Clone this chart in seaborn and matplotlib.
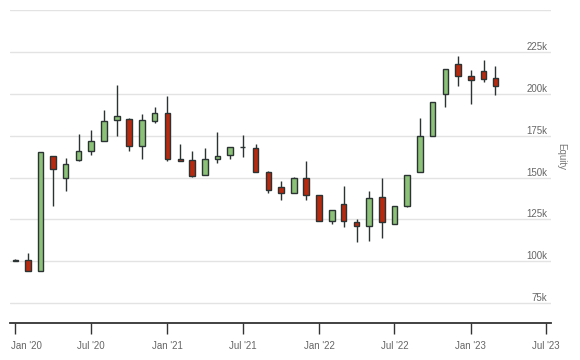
import matplotlib
matplotlib.use("Agg")
import matplotlib.pyplot as plt
import matplotlib.dates as mdates
import matplotlib.transforms as mtrans
import seaborn as sns
import pandas as pd
import numpy as np

# monthly equity candles (values in dollars)
months = pd.date_range("2020-01-01", "2023-03-01", freq="MS")
open_ = [100000, 100600, 94000, 163000, 149800, 160600, 166000, 172000, 184600, 185200,
         169000, 184000, 188800, 161200, 160200, 151600, 161200, 163600, 168400, 167800,
         153400, 144400, 140800, 149800, 139600, 124000, 134200, 123400, 121000, 138400,
         122200, 133000, 153400, 175000, 199800, 217800, 210600, 213600, 209400]
high = [101200, 105000, 165400, 163000, 161800, 175800, 178200, 190200, 205200, 185800,
        187800, 192000, 198800, 169800, 165600, 167400, 177000, 168400, 175200, 170200,
        154200, 148200, 150600, 159600, 139600, 130600, 145200, 125200, 142200, 150000,
        133000, 151600, 185400, 195400, 214800, 222800, 214200, 220200, 216600]
low = [100000, 94000, 94000, 132800, 141800, 159800, 163400, 172000, 174800, 165800,
       161000, 182600, 159800, 160000, 150600, 151600, 158600, 160800, 162200, 153400,
       140600, 136400, 140800, 136400, 124000, 122000, 120200, 111200, 111800, 113600,
       122200, 132200, 153400, 175000, 192200, 205000, 194200, 207000, 199600]
close = [100400, 94000, 165400, 155200, 158200, 166000, 172000, 184000, 187000, 169000,
         184600, 188800, 161000, 160000, 151000, 161200, 163000, 168400, 168400, 153400,
         142600, 140800, 149800, 139600, 124000, 130600, 124000, 121000, 137800, 123400,
         133000, 151600, 175000, 195400, 214800, 210600, 208200, 208800, 204600]

y_ticks = [75000, 100000, 125000, 150000, 175000, 200000, 225000, 250000]
y_tick_labels = ["75k", "100k", "125k", "150k", "175k", "200k", "225k", ""]
x_ticks = pd.date_range("2020-01-01", "2023-07-01", freq="6MS")

df = pd.DataFrame({"date": months, "open": open_, "high": high, "low": low, "close": close})
df["up"] = df["close"] >= df["open"]

sns.set_theme(style="white")
plt.rcParams["font.family"] = ["Liberation Sans", "DejaVu Sans"]

fig = plt.figure(figsize=(5.8, 3.6), dpi=100)
ax = fig.add_axes([10 / 580, 37 / 360, 541 / 580, 313.5 / 360])

green = "#8cc277"
red = "#b82a10"
edge = "#2b3333"

x = mdates.date2num(df["date"])
ax.vlines(x, df["low"], df["high"], color=edge, lw=1.0, zorder=2)
body_bottom = np.minimum(df["open"], df["close"])
body_h = np.abs(df["close"] - df["open"])
ax.bar(x, body_h, bottom=body_bottom, width=13.5,
       color=[green if u else red for u in df["up"]],
       edgecolor=edge, linewidth=1.0, zorder=3)

# axes ranges
ax.set_xlim(mdates.date2num(pd.Timestamp("2019-12-19")),
            mdates.date2num(pd.Timestamp("2023-07-13")))
ax.set_ylim(63000, 250500)

# y axis: labels inside on the right, above grid lines
ax.yaxis.tick_right()
ax.set_yticks(y_ticks)
ax.set_yticklabels(y_tick_labels)
ax.tick_params(axis="y", length=0, pad=-2.5, labelsize=7, labelcolor="#666666")
for lbl in ax.get_yticklabels():
    lbl.set_horizontalalignment("right")
    lbl.set_verticalalignment("bottom")
ax.grid(axis="y", color="#e3e3e3", lw=1)
ax.set_axisbelow(True)
ax.yaxis.set_label_position("right")
ax.set_ylabel("Equity", rotation=270, fontsize=7, color="#777777")
ax.yaxis.set_label_coords(1.028, 0.53)

# x axis
ax.set_xticks(mdates.date2num(x_ticks))
ax.xaxis.set_major_formatter(mdates.DateFormatter("%b '%y"))
ax.tick_params(axis="x", direction="out", length=8, width=1, color="#333333",
               pad=5, labelsize=7, labelcolor="#666666", bottom=True)
# first label is pushed right so it stays inside the chart
first = ax.get_xticklabels()[0]
first.set_horizontalalignment("left")
first.set_transform(first.get_transform() + mtrans.ScaledTranslation(-4.5 / 100, 0, fig.dpi_scale_trans))

for s in ["left", "top", "right"]:
    ax.spines[s].set_visible(False)
ax.spines["bottom"].set_color("#333333")
ax.spines["bottom"].set_linewidth(1.3)

fig.savefig("out.png", dpi=100)
